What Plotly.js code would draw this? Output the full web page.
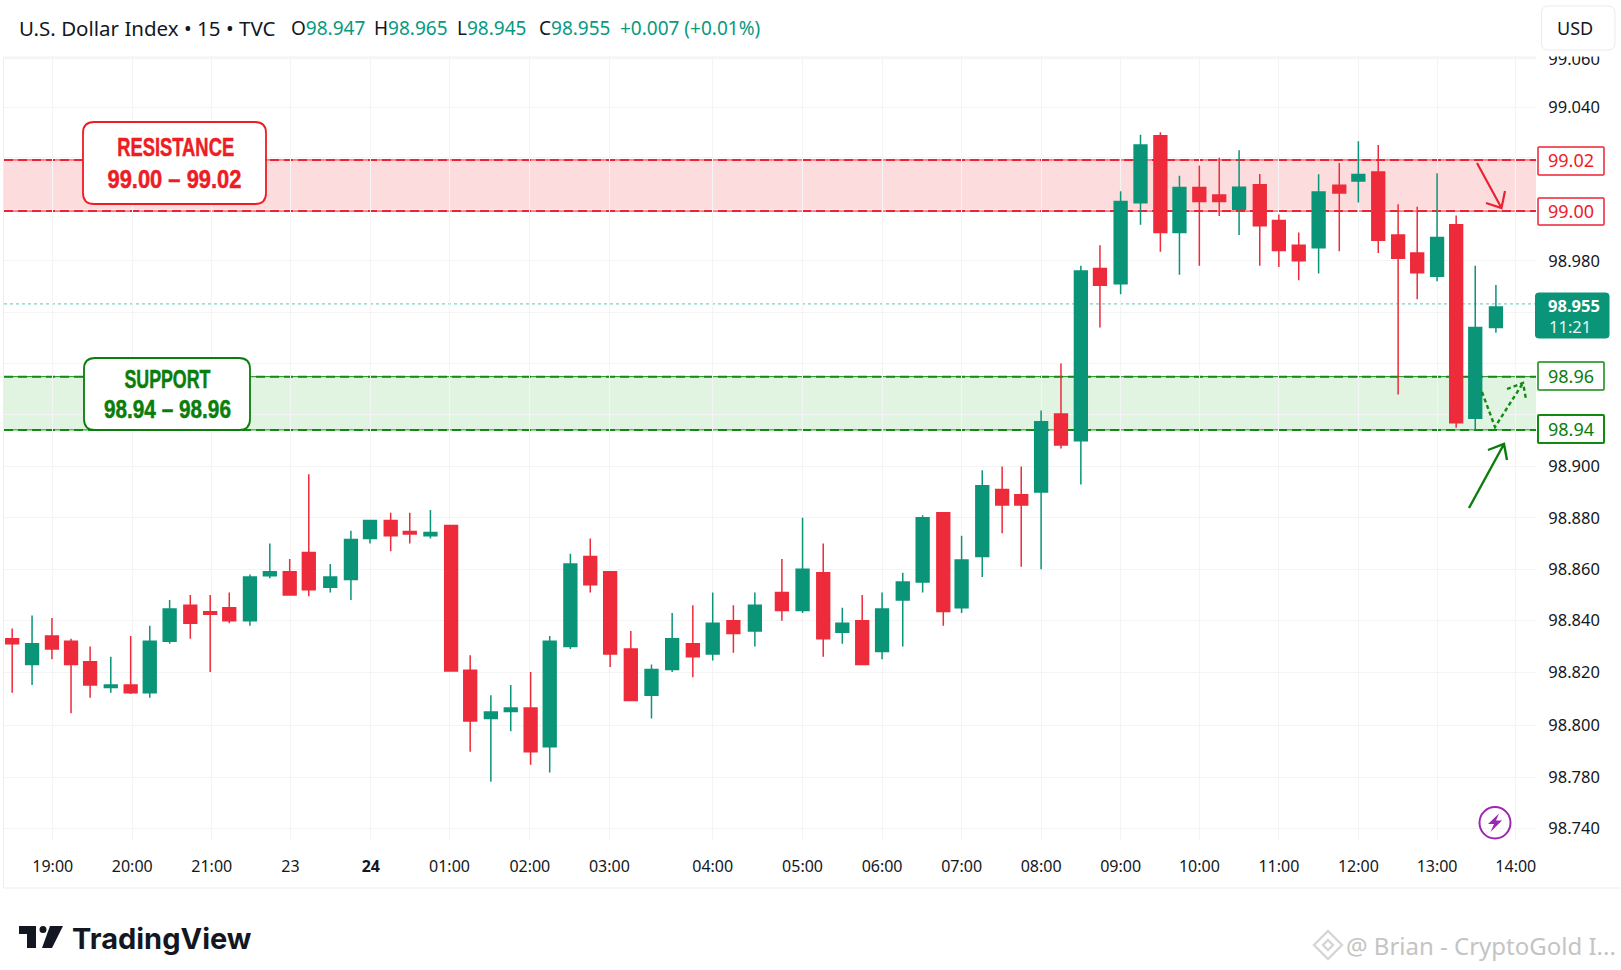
<!DOCTYPE html>
<html>
<head>
<meta charset="utf-8">
<script src="https://cdn.plot.ly/plotly-3.0.1.min.js"></script>
<style>
html, body { margin: 0; padding: 0; background: #fff; overflow: hidden; }
#chart { width: 1621px; height: 970px; }
</style>
</head>
<body>
<div id="chart"></div>
<script>
// bar positions along the time axis, in hours from the 19:00 tick
const barPos = [18.49,18.74,18.99,19.23,19.47,19.73,19.98,20.22,20.47,20.73,20.98,21.22,21.48,21.73,21.98,
    22.22,22.49,22.75,22.99,23.25,23.49,23.75,24.01,24.25,24.51,24.76,25.01,25.25,25.51,25.76,
    26.01,26.27,26.53,26.79,27.05,27.30,27.56,27.83,28.17,28.43,28.69,28.93,29.18,29.43,29.69,
    29.94,30.20,30.43,30.69,30.94,31.18,31.43,31.68,31.93,32.17,32.43,32.68,32.93,33.17,33.42,
    33.67,33.92,34.18,34.42,34.67,34.92,35.18,35.42,35.67,35.92,36.16,36.41,36.65,36.89,37.15];

const opens = [98.833,98.823,98.834,98.832,98.824,98.814,98.815,98.812,98.832,98.846,98.8435,98.845,98.840,98.8575,98.859,
    98.8665,98.853,98.856,98.872,98.879,98.8747,98.873,98.877,98.8207,98.802,98.8047,98.806,98.791,98.830,98.865,
    98.859,98.829,98.811,98.821,98.831,98.827,98.840,98.836,98.851,98.844,98.8586,98.8355,98.840,98.828,98.848,
    98.855,98.882,98.845,98.865,98.891,98.889,98.890,98.9204,98.910,98.977,98.971,99.0025,99.0286,98.991,99.0085,
    99.0056,99.000,99.0095,98.9956,98.986,98.985,99.0094,99.011,99.0145,98.990,98.983,98.974,98.994,98.9187,98.954];

const highs = [98.837,98.842,98.841,98.833,98.830,98.826,98.834,98.838,98.848,98.850,98.850,98.851,98.858,98.870,98.864,
    98.897,98.862,98.875,98.879,98.882,98.882,98.883,98.877,98.8266,98.811,98.815,98.820,98.834,98.866,98.872,
    98.859,98.836,98.823,98.843,98.846,98.851,98.846,98.851,98.864,98.880,98.870,98.845,98.850,98.851,98.8586,
    98.881,98.882,98.873,98.8985,98.900,98.900,98.9217,98.940,98.978,98.986,99.007,99.029,99.030,99.013,99.017,
    99.020,99.023,99.0137,98.998,98.991,99.0136,99.018,99.0265,99.025,99.002,99.001,99.014,98.9976,98.978,98.9706];

const lows = [98.812,98.815,98.825,98.804,98.810,98.812,98.8115,98.810,98.831,98.833,98.820,98.839,98.838,98.8565,98.850,
    98.8495,98.851,98.848,98.870,98.867,98.870,98.872,98.8204,98.789,98.7774,98.797,98.784,98.781,98.829,98.851,
    98.822,98.809,98.802,98.820,98.818,98.8245,98.8275,98.830,98.840,98.843,98.826,98.831,98.823,98.825,98.830,
    98.851,98.838,98.843,98.857,98.874,98.861,98.860,98.907,98.893,98.954,98.967,98.994,98.9835,98.9745,98.978,
    98.9974,98.990,98.978,98.9776,98.9724,98.975,98.9837,99.0026,98.983,98.928,98.965,98.972,98.915,98.914,98.952];

const closes = [98.831,98.831,98.829,98.823,98.815,98.815,98.812,98.832,98.8445,98.839,98.8425,98.840,98.857,98.859,98.850,
    98.852,98.857,98.8716,98.879,98.873,98.8737,98.8743,98.8204,98.801,98.8045,98.806,98.789,98.832,98.862,98.854,
    98.827,98.809,98.821,98.833,98.826,98.839,98.835,98.846,98.844,98.860,98.833,98.839,98.823,98.8445,98.855,
    98.880,98.8436,98.8636,98.8925,98.885,98.885,98.9174,98.9083,98.976,98.9705,99.003,99.025,98.991,99.0085,99.003,
    99.003,99.0086,98.9936,98.984,98.980,99.0067,99.0063,99.0135,98.988,98.981,98.9753,98.989,98.917,98.954,98.962];

// axis ticks; labels hidden behind the price tags stay empty
const priceTicks = [99.0585,99.0396,99.02,99.00,98.98,98.96,98.94,98.92,98.90,98.88,98.86,98.84,98.82,98.7992,98.7792,98.7592];
const priceTickText = ['99.060','99.040','','','98.980','','','','98.900','98.880','98.860','98.840','98.820','98.800','98.780','98.740'];
const timeTicks = [19,20,21,21.99,23,23.99,25,26,27.3,28.43,29.43,30.43,31.43,32.43,33.42,34.42,35.42,36.41,37.4];
const timeTickText = ['19:00','20:00','21:00','23','<b>24</b>','01:00','02:00','03:00','04:00','05:00','06:00','07:00','08:00','09:00','10:00','11:00','12:00','13:00','14:00'];

// zones as they sit on the price scale of the picture
const resistanceZone = [98.9993, 99.0192];
const supportZone = [98.9142, 98.9349];
const lastPriceLevel = 98.9632;

const GREEN = '#089981', CANDLE_GREEN = '#0a9478', RED = '#ee2b3b';
const ZONE_RED = '#ee2233', ZONE_GREEN = '#128a12', LABEL_GREEN = '#0b7d0b', LABEL_RED = '#ee1c25';
const FONT = '"Noto Sans", sans-serif';
const NARROW = '"Liberation Sans", sans-serif';

// plot box in page pixels
const L = 4, R = 1536, T = 54, B = 840;
const fx = px => (px - L) / (R - L);
const fy = py => (B - py) / (B - T);

function pxPath(points) {
    // points: array of [cmd, x, y]
    return points.map(p => p.length === 1 ? p[0] : p[0] + ' ' + fx(p[1]) + ' ' + fy(p[2])).join(' ');
}

function roundRect(x0, y0, x1, y1, r) {
    return 'M ' + fx(x0 + r) + ' ' + fy(y0) +
        ' L ' + fx(x1 - r) + ' ' + fy(y0) + ' Q ' + fx(x1) + ' ' + fy(y0) + ' ' + fx(x1) + ' ' + fy(y0 + r) +
        ' L ' + fx(x1) + ' ' + fy(y1 - r) + ' Q ' + fx(x1) + ' ' + fy(y1) + ' ' + fx(x1 - r) + ' ' + fy(y1) +
        ' L ' + fx(x0 + r) + ' ' + fy(y1) + ' Q ' + fx(x0) + ' ' + fy(y1) + ' ' + fx(x0) + ' ' + fy(y1 - r) +
        ' L ' + fx(x0) + ' ' + fy(y0 + r) + ' Q ' + fx(x0) + ' ' + fy(y0) + ' ' + fx(x0 + r) + ' ' + fy(y0) + ' Z';
}

function box(x0, y0, x1, y1, r, line, width, fill, layer) {
    return {type: 'path', xref: 'paper', yref: 'paper', path: roundRect(x0, y0, x1, y1, r),
        line: {color: line, width: width}, fillcolor: fill, layer: layer || 'above'};
}

function stroke(points, color, width, dash) {
    return {type: 'path', xref: 'paper', yref: 'paper', path: pxPath(points),
        line: {color: color, width: width, dash: dash || 'solid'}, layer: 'above'};
}

function zone(range, lineColor, fill) {
    let out = [{type: 'rect', xref: 'paper', yref: 'y', x0: 0, x1: 1, y0: range[0], y1: range[1],
        fillcolor: fill, line: {width: 0}, layer: 'below'}];
    range.forEach(v => {
        out.push({type: 'line', xref: 'paper', yref: 'y', x0: 0, x1: 1, y0: v, y1: v,
            line: {color: lineColor, width: 1}, layer: 'below'});
        out.push({type: 'line', xref: 'paper', yref: 'y', x0: 0, x1: 1, y0: v, y1: v,
            line: {color: lineColor, width: 2, dash: '9px,5px'}, layer: 'below'});
    });
    return out;
}

function label(text, x, y, size, color, anchor, family) {
    return {xref: 'paper', yref: 'paper', x: fx(x), y: fy(y), text: text, showarrow: false,
        xanchor: anchor || 'center', yanchor: 'middle',
        font: {family: family || FONT, size: size, color: color}};
}

const shapes = [
    ...zone(resistanceZone, ZONE_RED, 'rgba(245,60,70,0.18)'),
    ...zone(supportZone, ZONE_GREEN, 'rgba(70,180,70,0.16)'),
    {type: 'line', xref: 'paper', yref: 'y', x0: 0, x1: 1, y0: lastPriceLevel, y1: lastPriceLevel,
        line: {color: '#5fc4b4', width: 1, dash: 'dot'}, layer: 'below'},

    // white strip that cuts the top axis label
    {type: 'rect', xref: 'paper', yref: 'paper', x0: fx(0), x1: fx(1621), y0: fy(56.5), y1: fy(0),
        fillcolor: '#fff', line: {width: 0}, layer: 'above'},

    // frame of the chart pane
    stroke([['M', 3.5, 57], ['L', 3.5, 888]], '#eeeeee', 1),
    stroke([['M', 3.5, 57], ['L', 1536, 57]], '#f0f0f0', 1),
    stroke([['M', 3.5, 888], ['L', 1621, 888]], '#eeeeee', 1),
    box(1541.5, 6, 1615, 50, 7, '#ececec', 1, '#fff'),

    // zone callouts
    box(83, 122, 266, 204, 11, LABEL_RED, 1.8, '#fff'),
    box(84, 358, 250, 430, 11, LABEL_GREEN, 1.8, '#fff'),

    // price tags at the right
    box(1538, 147, 1604, 175, 1, ZONE_RED, 1.5, '#fff'),
    box(1538, 198, 1604, 225, 1, ZONE_RED, 1.5, '#fff'),
    box(1538, 362, 1604, 390, 1, ZONE_GREEN, 1.5, '#fff'),
    box(1538, 415, 1604, 443, 1, ZONE_GREEN, 2, '#fff'),
    box(1535.5, 293, 1609, 338, 3, CANDLE_GREEN, 1, CANDLE_GREEN),

    // hand drawn arrows
    stroke([['M', 1477, 163], ['L', 1501.5, 208], ['M', 1486, 203], ['L', 1501.5, 208], ['L', 1505, 191]], '#e8242f', 2.2),
    stroke([['M', 1469, 508], ['L', 1504, 444], ['M', 1488, 450], ['L', 1504, 444], ['L', 1507, 460]], '#0b7d0b', 2.4),
    stroke([['M', 1482, 392], ['L', 1495, 427], ['L', 1523, 383], ['M', 1507, 389], ['L', 1523, 383], ['L', 1526, 399]], '#128a12', 2.4, '4px,3px'),

    // lightning badge
    {type: 'circle', xref: 'paper', yref: 'paper', x0: fx(1479.5), x1: fx(1510.5), y0: fy(807), y1: fy(838.5),
        line: {color: '#9c27b0', width: 2}, fillcolor: 'rgba(0,0,0,0)', layer: 'above'},
    {type: 'path', xref: 'paper', yref: 'paper', layer: 'above', fillcolor: '#9c27b0', line: {width: 0},
        path: pxPath([['M', 1499, 813.5], ['L', 1488, 824], ['L', 1494, 824], ['L', 1490.5, 832], ['L', 1502, 820.5], ['L', 1496, 820.5], ['Z']])},

    // TradingView mark
    {type: 'path', xref: 'paper', yref: 'paper', layer: 'above', fillcolor: '#131722', line: {width: 0},
        path: pxPath([['M', 19, 926], ['L', 36, 926], ['L', 36, 948], ['L', 27, 948], ['L', 27, 934], ['L', 19, 934], ['Z']])},
    {type: 'circle', xref: 'paper', yref: 'paper', x0: fx(39.5), x1: fx(46.5), y0: fy(926), y1: fy(933),
        fillcolor: '#131722', line: {width: 0}, layer: 'above'},
    {type: 'path', xref: 'paper', yref: 'paper', layer: 'above', fillcolor: '#131722', line: {width: 0},
        path: pxPath([['M', 50, 926], ['L', 63, 926], ['L', 52, 948], ['L', 42, 948], ['Z']])},

    // diamond of the watermark
    stroke([['M', 1328, 931], ['L', 1342, 945], ['L', 1328, 959], ['L', 1314, 945], ['Z'],
        ['M', 1328, 940], ['L', 1333, 945], ['L', 1328, 950], ['L', 1323, 945], ['Z']], '#d6d6d6', 2.4)
];

const annotations = [
    label('U.S. Dollar Index', 17, 28, 20.5, '#131722', 'left'),
    label('• 15', 182, 28, 20.5, '#131722', 'left'),
    label('• TVC', 224, 28, 20.5, '#131722', 'left'),
    label('O<span style="color:' + GREEN + '">98.947</span>', 288.5, 28, 19, '#131722', 'left'),
    label('H<span style="color:' + GREEN + '">98.965</span>', 372, 28, 19, '#131722', 'left'),
    label('L<span style="color:' + GREEN + '">98.945</span>', 455, 28, 19, '#131722', 'left'),
    label('C<span style="color:' + GREEN + '">98.955</span>', 537, 28, 19, '#131722', 'left'),
    label('+0.007 (+0.01%)', 618, 28, 19, GREEN, 'left'),
    label('USD', 1575, 28, 18, '#131722'),

    label('<b>RESISTANCE</b>', 175, 147, 25, LABEL_RED, 'center', NARROW),
    label('<b>99.00 – 99.02</b>', 174, 179, 25, LABEL_RED, 'center', NARROW),
    label('<b>SUPPORT</b>', 167, 379, 25, LABEL_GREEN, 'center', NARROW),
    label('<b>98.94 – 98.96</b>', 167, 409, 25, LABEL_GREEN, 'center', NARROW),

    label('99.02', 1571, 160, 18, LABEL_RED),
    label('99.00', 1571, 211, 18, LABEL_RED),
    label('98.96', 1571, 376, 18, LABEL_GREEN),
    label('98.94', 1571, 429, 18, LABEL_GREEN),
    label('<b>98.955</b>', 1574, 305, 16.5, '#ffffff'),
    label('11:21', 1570, 326, 16.5, '#e6f5f2'),

    label('<b>TradingView</b>', 70, 938, 29, '#131722', 'left', 'Inter, sans-serif'),
    label('@ Brian - CryptoGold I...', 1344, 945, 24, '#c4c4c4', 'left')
];

// the callout lettering is condensed, squeeze it to the widths in the picture
const calloutWidths = {'RESISTANCE': 117, '99.00 – 99.02': 134, 'SUPPORT': 86, '98.94 – 98.96': 127};

const candles = {
    type: 'candlestick',
    x: barPos, open: opens, high: highs, low: lows, close: closes,
    increasing: {line: {color: CANDLE_GREEN, width: 1.5}, fillcolor: CANDLE_GREEN},
    decreasing: {line: {color: RED, width: 1.5}, fillcolor: RED},
    hoverinfo: 'skip',
    showlegend: false
};

const layout = {
    width: 1621, height: 970,
    paper_bgcolor: '#ffffff', plot_bgcolor: '#ffffff',
    margin: {l: L, r: 1621 - R, t: T, b: 970 - B, autoexpand: false},
    showlegend: false,
    boxgap: 0.3, boxgroupgap: 0,
    xaxis: {
        type: 'linear', range: [18.387, 37.654], rangeslider: {visible: false},
        tickmode: 'array', tickvals: timeTicks, ticktext: timeTickText,
        showgrid: true, gridcolor: '#f4f4f4', gridwidth: 1, zeroline: false, showline: false,
        ticks: 'outside', ticklen: 12, tickcolor: 'rgba(0,0,0,0)',
        tickfont: {family: FONT, size: 16, color: '#131722'}, tickangle: 0
    },
    yaxis: {
        type: 'linear', side: 'right', range: [98.7547, 99.0604],
        tickmode: 'array', tickvals: priceTicks, ticktext: priceTickText,
        showgrid: true, gridcolor: '#f4f4f4', gridwidth: 1, zeroline: false, showline: false,
        ticks: 'outside', ticklen: 8, tickcolor: 'rgba(0,0,0,0)',
        tickfont: {family: FONT, size: 16.5, color: '#131722'}
    },
    shapes: shapes,
    annotations: annotations
};

Plotly.newPlot('chart', [candles], layout, {displayModeBar: false, staticPlot: true}).then(() => {
    document.querySelectorAll('.annotation-text').forEach(t => {
        let w = calloutWidths[t.textContent];
        if (w) {
            t.setAttribute('textLength', w);
            t.setAttribute('lengthAdjust', 'spacingAndGlyphs');
            t.style.stroke = t.style.fill;
            t.style.strokeWidth = '0.5px';
        }
    });
});
</script>
</body>
</html>
